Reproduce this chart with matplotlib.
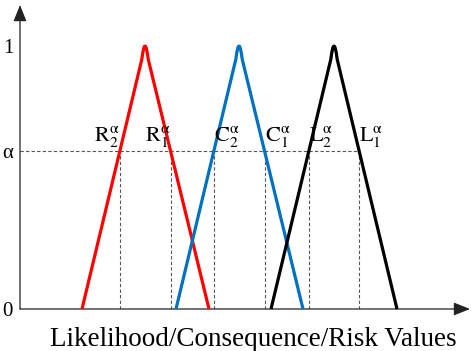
import matplotlib

matplotlib.use("Agg")
import matplotlib.pyplot as plt
from matplotlib.patches import PathPatch
from matplotlib.path import Path

# triangular fuzzy numbers (left base, peak, right base)
RISK = (6.2, 12.5, 18.9)
CONSEQUENCE = (15.6, 21.9, 28.3)
LIKELIHOOD = (25.1, 31.4, 37.7)
ALPHA = 0.6

SERIES = [
    (RISK, "#ff0000", "R"),
    (CONSEQUENCE, "#0070c0", "C"),
    (LIKELIHOOD, "#000000", "L"),
]

plt.rcParams["font.family"] = ["Liberation Serif", "DejaVu Serif"]
plt.rcParams["mathtext.fontset"] = "stix"


def triangle_path(a, b, c, r=0.05):
    # straight sides with a softly rounded apex, like the original drawing
    p0 = (b - r * (b - a), 1 - r)
    p2 = (b + r * (c - b), 1 - r)
    verts = [(a, 0), p0, (b, 1 + r), p2, (c, 0)]
    codes = [Path.MOVETO, Path.LINETO, Path.CURVE3, Path.CURVE3, Path.LINETO]
    return Path(verts, codes)


fig = plt.figure(figsize=(4.74, 3.51), dpi=100)
ax = fig.add_axes([20 / 474, 42 / 351, 450 / 474, 304 / 351])
ax.set_xlim(0, 45)
ax.set_ylim(0, 1.156)
for side in ("top", "right", "left", "bottom"):
    ax.spines[side].set_visible(False)

# axes with arrowheads
arrow = dict(arrowstyle="-|>,head_length=1.0,head_width=0.4", color="#222222",
             lw=0.9, shrinkA=0, shrinkB=0)
ax.annotate("", xy=(1, 0), xytext=(0, 0), xycoords="axes fraction", arrowprops=arrow)
ax.annotate("", xy=(0, 1), xytext=(0, 0), xycoords="axes fraction", arrowprops=arrow)

ax.set_xticks([])
ax.set_yticks([0, ALPHA, 1])
ax.set_yticklabels(["0", "α", "1"], fontsize=15)
ax.tick_params(axis="y", length=0, pad=5)

last_cross = 0
for (a, b, c), color, letter in SERIES:
    ax.add_patch(PathPatch(triangle_path(a, b, c), facecolor="none", edgecolor=color,
                           lw=2.3, joinstyle="round", capstyle="butt",
                           clip_on=False, zorder=3))
    left = a + ALPHA * (b - a)
    right = c - ALPHA * (c - b)
    last_cross = max(last_cross, right)
    for x in (left, right):
        ax.plot([x, x], [0, ALPHA], color="#555555", lw=0.8, ls=(0, (3, 2)), zorder=2)
    ha = "right" if letter == "R" else "left"
    ax.text(left, ALPHA + 0.008, rf"$\mathrm{{{letter}}}_2^{{\mathrm{{\alpha}}}}$",
            ha=ha, va="bottom", fontsize=16)
    ax.text(right, ALPHA + 0.008, rf"$\mathrm{{{letter}}}_1^{{\mathrm{{\alpha}}}}$",
            ha=ha, va="bottom", fontsize=16)

ax.plot([0, last_cross], [ALPHA, ALPHA], color="#555555", lw=0.8,
        ls=(0, (3, 2)), zorder=2)

ax.set_xlabel("Likelihood/Consequence/Risk Values", fontsize=19.5, labelpad=13,
              x=0.519)

fig.savefig("out.png", dpi=100)
